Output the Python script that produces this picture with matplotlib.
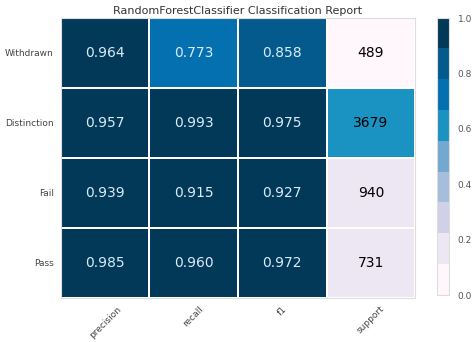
import numpy as np
import matplotlib.pyplot as plt
from matplotlib.colors import ListedColormap, BoundaryNorm

classes = ['Pass', 'Fail', 'Distinction', 'Withdrawn']
metrics = ['precision', 'recall', 'f1', 'support']
precision = [0.985, 0.939, 0.957, 0.964]
recall = [0.960, 0.915, 0.993, 0.773]
f1 = [0.972, 0.927, 0.975, 0.858]
support = [731, 940, 3679, 489]

sup = np.array(support, dtype=float)
scores = np.column_stack([precision, recall, f1, sup / sup.sum()])

# 9-class PuBu
pubu = ['#fff7fb', '#ece7f2', '#d0d1e6', '#a6bddb', '#74a9cf',
        '#1a92c2', '#0570b0', '#045a8d', '#023858']
cmap = ListedColormap(pubu)
norm = BoundaryNorm(np.linspace(0, 1, len(pubu) + 1), cmap.N)

fig = plt.figure(figsize=(4.74, 3.42), dpi=100)
ax = fig.add_axes([0.128, 0.13, 0.748, 0.818])
cax = fig.add_axes([0.921, 0.137, 0.027, 0.81])

xe = np.arange(len(metrics) + 1)
ye = np.arange(len(classes) + 1)
mesh = ax.pcolormesh(xe, ye, scores, cmap=cmap, norm=norm,
                     edgecolors='white', linewidth=1.2)

for i in range(len(classes)):
    for j in range(len(metrics)):
        if j == 3:
            txt = '{:d}'.format(support[i])
        else:
            txt = '{:0.3f}'.format(scores[i, j])
        col = '#d8ecf8' if scores[i, j] > 0.7 else 'black'
        ax.text(j + 0.5, i + 0.5, txt, ha='center', va='center',
                fontsize=10, color=col)

ax.set_xlim(0, 4)
ax.set_ylim(0, 4)
ax.set_xticks(np.arange(4) + 0.5)
ax.set_xticklabels(metrics, rotation=45, fontsize=6.5, color='#444444')
ax.set_yticks(np.arange(4) + 0.5)
ax.set_yticklabels(classes, fontsize=6.5, color='#444444')
ax.tick_params(length=0, pad=5)
for s in ax.spines.values():
    s.set_color('#dddddd')
ax.set_title('RandomForestClassifier Classification Report', fontsize=8,
             color='#333333', pad=3)

# colorbar as an image of the nine bins
levels = np.linspace(0, 1, len(pubu) + 1)
centers = (levels[:-1] + levels[1:]) / 2
cax.imshow(centers[:, None], cmap=cmap, norm=norm, origin='lower',
           extent=[0, 1, 0, 1], aspect='auto', interpolation='nearest')
cax.set_xticks([])
cax.yaxis.tick_right()
cax.set_yticks(np.linspace(0, 1, 6))
cax.set_yticklabels(['{:.1f}'.format(v) for v in np.linspace(0, 1, 6)])
cax.tick_params(length=0, labelsize=6.5, labelcolor='#555555', pad=6)
for s in cax.spines.values():
    s.set_color('#dddddd')

fig.savefig('out.png', dpi=100)
